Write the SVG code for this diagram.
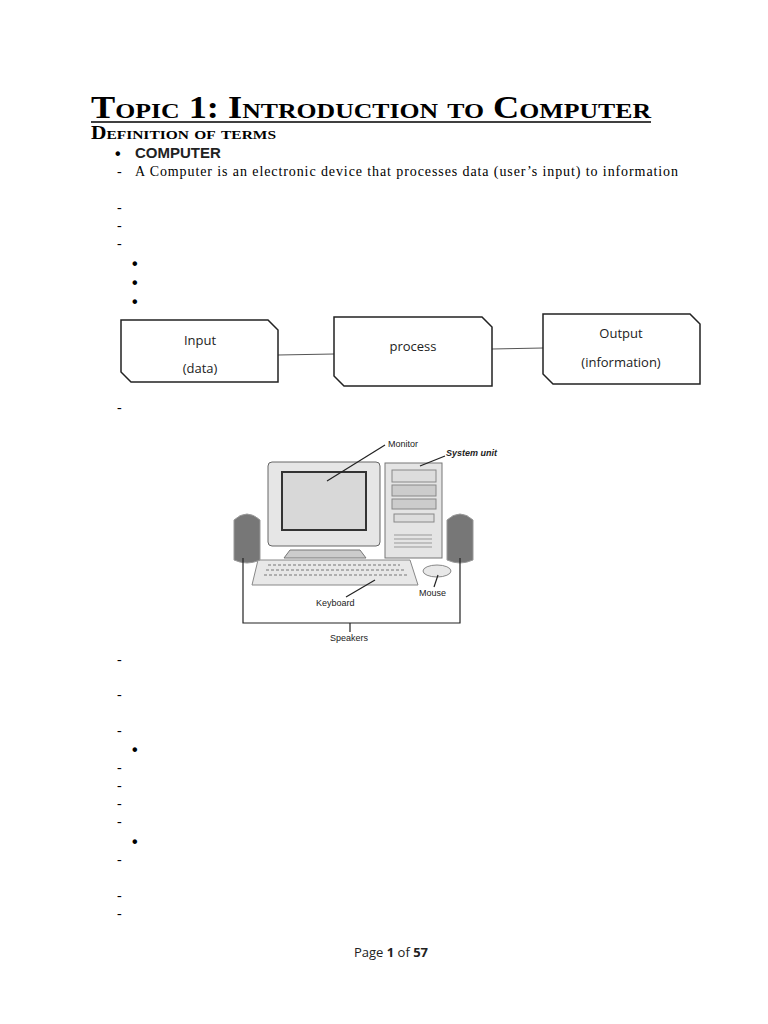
<svg xmlns="http://www.w3.org/2000/svg" width="768" height="1024" viewBox="0 0 768 1024">
<style>
.t{font-family:"Liberation Serif",serif;fill:#000}
.s{font-family:"Open Sans","Noto Sans",sans-serif;fill:#222}
.a{font-family:"Liberation Sans",Arial,sans-serif;fill:#222}
.box{fill:#fff;stroke:#222;stroke-width:1.5}
.ln{stroke:#555;stroke-width:1;fill:none}
.d{font-family:"Liberation Serif",serif;font-size:14px}
.b{font-family:"Liberation Sans",sans-serif;font-size:16px;font-weight:bold}
</style>
<rect width="768" height="1024" fill="#fff"/>
<text class="t" x="91" y="118" font-size="31" font-weight="bold" style="font-variant:small-caps" textLength="560" lengthAdjust="spacingAndGlyphs">Topic 1: Introduction to Computer</text>
<line x1="91" y1="122" x2="651" y2="122" stroke="#000" stroke-width="1.5"/>
<text class="t" x="91" y="139" font-size="18" font-weight="bold" style="font-variant:small-caps" textLength="185" lengthAdjust="spacingAndGlyphs">Definition of terms</text>
<text class="b" x="115" y="159">•</text>
<text class="a" x="135" y="158" font-size="15" font-weight="bold" fill="#000">COMPUTER</text>
<text class="t" x="117" y="176" font-size="14">-</text>
<text class="t" x="135" y="176" font-size="14" textLength="543" lengthAdjust="spacing">A Computer is an electronic device that processes data (user’s input) to information</text>
<g class="d">
<text x="117" y="212">-</text><text x="117" y="230">-</text><text x="117" y="248">-</text>
<text x="117" y="412">-</text>
<text x="117" y="664">-</text><text x="117" y="699">-</text><text x="117" y="735">-</text>
<text x="117" y="772">-</text><text x="117" y="790">-</text><text x="117" y="808">-</text><text x="117" y="826">-</text>
<text x="117" y="864">-</text><text x="117" y="900">-</text><text x="117" y="918">-</text>
</g>
<g class="b">
<text x="132" y="269">•</text><text x="132" y="288">•</text><text x="132" y="307">•</text>
<text x="132" y="755">•</text><text x="132" y="847">•</text>
</g>
<g id="connectors">
<line class="ln" x1="278" y1="355" x2="334" y2="354"/>
<line class="ln" x1="492" y1="349" x2="543" y2="348"/>
</g>
<g id="input">
<path class="box" d="M121 320 H268 L278 330 V382 H131 L121 372 Z"/>
<text class="s" x="200" y="345" font-size="13" text-anchor="middle">Input</text>
<text class="s" x="200" y="373" font-size="13" text-anchor="middle">(data)</text>
</g>
<g id="process">
<path class="box" d="M334 317 H482 L492 327 V386 H344 L334 376 Z"/>
<text class="s" x="413" y="351" font-size="13" text-anchor="middle">process</text>
</g>
<g id="output">
<path class="box" d="M543 314 H690 L700 324 V384 H553 L543 374 Z"/>
<text class="s" x="621" y="338" font-size="13" text-anchor="middle">Output</text>
<text class="s" x="621" y="367" font-size="13" text-anchor="middle">(information)</text>
</g>
<g id="computer">
<rect x="268" y="462" width="112" height="84" rx="4" fill="#e6e6e6" stroke="#666"/>
<rect x="282" y="472" width="84" height="58" fill="#d8d8d8" stroke="#333" stroke-width="2"/>
<path d="M290 550 H360 L366 558 H284 Z" fill="#ccc" stroke="#777"/>
<rect x="385" y="463" width="57" height="95" fill="#e4e4e4" stroke="#777"/>
<rect x="392" y="470" width="44" height="12" fill="#ddd" stroke="#888"/>
<rect x="392" y="485" width="44" height="11" fill="#ccc" stroke="#888"/>
<rect x="392" y="499" width="44" height="10" fill="#ccc" stroke="#888"/>
<rect x="394" y="514" width="40" height="8" fill="#ddd" stroke="#888"/>
<g stroke="#999"><line x1="394" y1="535" x2="432" y2="535"/><line x1="394" y1="539" x2="432" y2="539"/><line x1="394" y1="543" x2="432" y2="543"/><line x1="394" y1="547" x2="432" y2="547"/></g>
<path d="M258 560 H410 L418 585 H252 Z" fill="#e8e8e8" stroke="#888"/>
<g stroke="#777" stroke-width="1">
<line x1="268" y1="565" x2="400" y2="565" stroke-dasharray="3 2"/>
<line x1="266" y1="570" x2="404" y2="570" stroke-dasharray="3 2"/>
<line x1="264" y1="575" x2="408" y2="575" stroke-dasharray="3 2"/>
</g>
<ellipse cx="437" cy="571" rx="14" ry="6" fill="#e8e8e8" stroke="#888"/>
<path d="M234 520 Q247 508 260 520 V560 Q247 566 234 560 Z" fill="#777" stroke="#999"/>
<path d="M447 520 Q460 508 473 520 V560 Q460 566 447 560 Z" fill="#777" stroke="#999"/>
<g stroke="#222" stroke-width="1.2" fill="none">
<line x1="327" y1="481" x2="385" y2="445"/>
<line x1="420" y1="466" x2="445" y2="456"/>
<line x1="346" y1="597" x2="375" y2="580"/>
<line x1="434" y1="587" x2="438" y2="575"/>
<polyline points="243,558 243,623 460,623 460,558"/>
<line x1="350" y1="623" x2="350" y2="632"/>
</g>
<text class="a" x="388" y="447" font-size="9">Monitor</text>
<text class="a" x="446" y="456" font-size="9" font-weight="bold" font-style="italic">System unit</text>
<text class="a" x="316" y="606" font-size="9">Keyboard</text>
<text class="a" x="419" y="596" font-size="9">Mouse</text>
<text class="a" x="330" y="641" font-size="9">Speakers</text>
</g>
<text class="s" x="391" y="957" font-size="13" text-anchor="middle">Page <tspan font-weight="bold">1</tspan> of <tspan font-weight="bold">57</tspan></text>
</svg>
